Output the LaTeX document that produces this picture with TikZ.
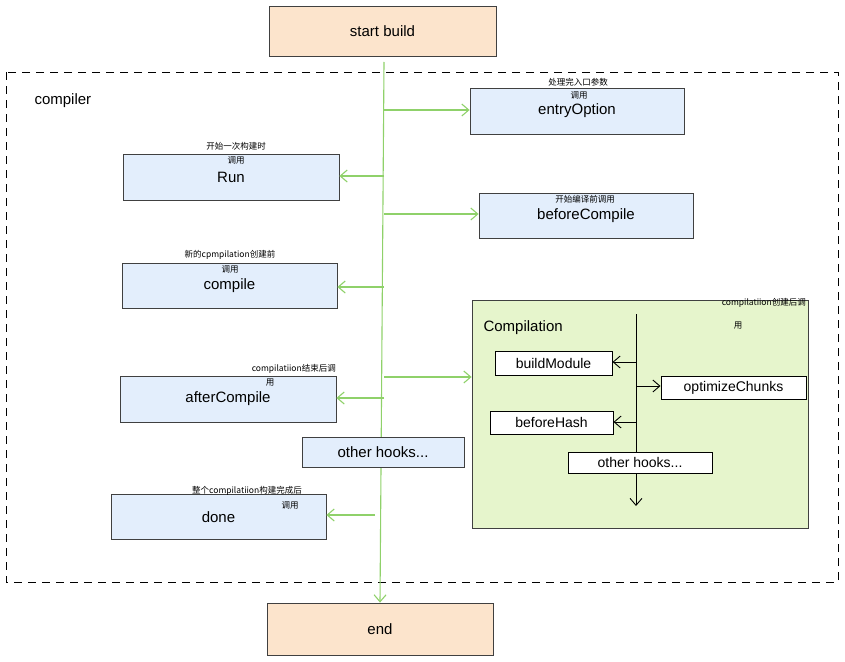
\documentclass[tikz,border=0pt]{standalone}
\usepackage{fontspec}
\setmainfont{Liberation Sans}
\newfontfamily\cjk{Noto Sans CJK SC}
\usetikzlibrary{arrows.meta}
\definecolor{bluef}{HTML}{E3EEFC}
\definecolor{orangef}{HTML}{FCE4CC}
\definecolor{greenf}{HTML}{E6F5CC}
\definecolor{gline}{HTML}{8FD16A}
\tikzset{
 box/.style={draw=black!75,line width=0.8pt,font=\fontsize{15}{17}\selectfont},
 hook/.style={box,fill=bluef},
 term/.style={box,fill=orangef},
 inner/.style={draw=black,line width=1pt,fill=white,font=\fontsize{14}{16}\selectfont,inner sep=1pt},
 ann/.style={font=\cjk\fontsize{8.5}{9}\selectfont,inner sep=0pt},
 garr/.style={draw=gline,line width=1.1pt,-{Straight Barb[length=7pt,width=12pt]}},
 karr/.style={draw=black,line width=0.9pt,-{Straight Barb[length=7pt,width=12pt]}},
}
\begin{document}
\begin{tikzpicture}[x=1pt,y=-1pt]
\useasboundingbox (0,0) rectangle (845,661);
\draw[dashed,line width=0.9pt,dash pattern=on 8pt off 6pt] (6,72) rectangle (838,582);
\node[anchor=west,font=\fontsize{15}{17}\selectfont] (lbl) at (31,101) {compiler};
\node[term,minimum width=227pt,minimum height=50pt] (start) at (382.5,31) {start build};
\node[term,minimum width=226pt,minimum height=52pt] (end) at (380,629) {end};
\coordinate (top) at (384,62);
\draw[garr] (top) -- (end.north);
\node[hook,minimum width=214pt,minimum height=46pt] (entry) at (577,111) {entryOption};
\node[hook,minimum width=216pt,minimum height=46pt] (run) at (231,177) {Run};
\node[hook,minimum width=214pt,minimum height=45pt] (bc) at (586,216) {beforeCompile};
\node[hook,minimum width=215pt,minimum height=45pt] (comp) at (229.5,286) {compile};
\node[hook,minimum width=216pt,minimum height=46pt] (ac) at (228,399) {afterCompile};
\node[hook,minimum width=162pt,minimum height=30pt] (oh) at (383,452) {other hooks...};
\node[hook,minimum width=215pt,minimum height=45pt] (done) at (218.5,517) {done};
\node[draw=black!75,line width=0.8pt,fill=greenf,minimum width=336pt,minimum height=228pt] (cf) at (640,414) {};
\node[anchor=west,font=\fontsize{15}{17}\selectfont] (cl) at (480,328) {Compilation};
\coordinate (sentry) at (384,110);
\coordinate (sbc) at (384,214);
\coordinate (srun) at (384,176);
\coordinate (scomp) at (384,287);
\coordinate (scf) at (384,377);
\coordinate (sac) at (384,398);
\coordinate (sdone) at (375,515);
\draw[garr] (sentry) -- (entry.west|-sentry);
\draw[garr] (sbc) -- (bc.west|-sbc);
\draw[garr] (srun) -- (run.east|-srun);
\draw[garr] (scomp) -- (comp.east|-scomp);
\draw[garr] (scf) -- (cf.west|-scf);
\draw[garr] (sac) -- (ac.east|-sac);
\draw[garr] (sdone) -- (done.east|-sdone);
% inner
\coordinate (it) at (636,314);
\coordinate (ib) at (636,506);
\draw[karr] (it) -- (ib);
\node[inner,minimum width=117pt,minimum height=24pt] (bm) at (553.5,363) {buildModule};
\node[inner,minimum width=145pt,minimum height=23pt] (oc) at (733.5,387.5) {optimizeChunks};
\node[inner,minimum width=123pt,minimum height=23pt] (bh) at (551.5,422.5) {beforeHash};
\node[inner,minimum width=144pt,minimum height=21pt] (oh2) at (640,462.5) {other hooks...};
\coordinate (i1) at (636,362); \coordinate (i2) at (636,386); \coordinate (i3) at (636,422);
\draw[karr] (i1) -- (bm.east|-i1);
\draw[karr] (i2) -- (oc.west|-i2);
\draw[karr] (i3) -- (bh.east|-i3);
% annotations
\node[ann] (a1) at (578,82) {处理完入口参数};
\node[ann] (a1b) at (579,95) {调用};
\node[ann] (a2) at (236,146) {开始一次构建时};
\node[ann] (a2b) at (236,160) {调用};
\node[ann] (a3) at (585,199) {开始编译前调用};
\node[ann] (a4) at (230,255) {新的cpmpilation创建前};
\node[ann] (a4b) at (230,269) {调用};
\node[ann,anchor=east] (a5) at (806,303) {compilatiion创建后调};
\node[ann] (a5b) at (738,326) {用};
\node[ann,anchor=east] (a6) at (336,369) {compilatiion结束后调};
\node[ann] (a6b) at (270,383) {用};
\node[ann] (a7) at (247,491) {整个compilatiion构建完成后};
\node[ann] (a7b) at (290,505) {调用};
\end{tikzpicture}
\end{document}
